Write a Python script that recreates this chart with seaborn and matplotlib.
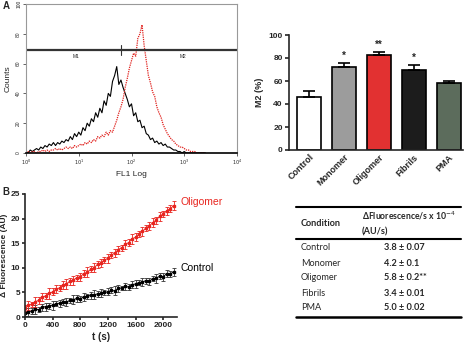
import numpy as np
import pandas as pd
import matplotlib
matplotlib.use("Agg")
import matplotlib.pyplot as plt
import seaborn as sns

sns.set_style("ticks")
plt.rcParams['font.family'] = ['Liberation Sans', 'DejaVu Sans']

# ---------------- Panel A (histogram) data ----------------
fl1_log_bins = np.round(np.arange(0, 3.41, 0.04), 2)
control_counts = [1, 0, 2, 1, 2, 3, 2, 4, 3, 5,
                  4, 6, 5, 7, 5, 7, 6, 8, 7, 9,
                  8, 11, 9, 13, 11, 14, 12, 17, 15, 20,
                  18, 23, 21, 27, 24, 30, 27, 35, 32, 40,
                  38, 48, 52, 58, 46, 49, 44, 40, 36, 31,
                  33, 25, 27, 21, 22, 17, 18, 13, 12, 9,
                  10, 7, 8, 6, 7, 5, 6, 4, 4, 3,
                  2, 2, 1, 1, 0, 1, 0, 0, 0, 0,
                  0, 0, 0, 0, 0, 0]
oligomer_counts = [0, 1, 0, 1, 1, 0, 1, 1, 2, 1,
                   2, 1, 2, 2, 3, 2, 3, 2, 3, 4,
                   3, 4, 3, 5, 4, 5, 6, 5, 7, 6,
                   8, 7, 9, 8, 11, 10, 12, 11, 14, 12,
                   15, 14, 18, 22, 27, 31, 36, 44, 50, 57,
                   62, 67, 65, 77, 80, 86, 72, 62, 52, 47,
                   41, 38, 31, 27, 24, 19, 16, 13, 11, 9,
                   8, 6, 5, 4, 4, 3, 2, 2, 1, 1,
                   1, 0, 0, 0, 0, 0]
m_gate_level = 69
m_gate_split = 63

# ---------------- Panel A (bars) data ----------------
conditions = ["Control", "Monomer", "Oligomer", "Fibrils", "PMA"]
m2_percent = [46.5, 72.5, 82.8, 69.9, 58.6]
m2_sem = [5.2, 3.5, 2.8, 4.3, 1.1]
m2_sig = ["", "*", "**", "*", ""]
bar_colors = ["#ffffff", "#9c9c9c", "#e23131", "#1c1c1c", "#5c6c5c"]

# ---------------- Panel B data ----------------
time_s = np.arange(0, 2151, 50)
oligomer_fluo = [1.8, 2.4, 2.6, 3.1, 3.4, 4.0, 4.3, 4.8, 5.1, 5.7, 5.9,
                 6.5, 6.7, 7.3, 7.5, 8.0, 8.2, 8.8, 9.1, 9.7, 10.0, 10.7,
                 11.0, 11.6, 11.9, 12.6, 13.0, 13.7, 14.1, 14.8, 15.1, 15.9,
                 16.2, 16.9, 17.4, 18.1, 18.5, 19.2, 19.7, 20.5, 20.9, 21.6, 22.0, 22.6]
oligomer_err = [0.6, 0.9, 0.5, 1.0, 0.7, 0.8, 0.6, 1.1, 0.7, 0.9, 0.6,
                0.8, 1.0, 0.7, 0.9, 0.6, 0.8, 0.7, 1.0, 0.6, 0.9, 0.7,
                0.8, 0.6, 1.0, 0.7, 0.9, 0.8, 0.6, 0.9, 0.7, 1.0, 0.8,
                0.6, 0.9, 0.7, 0.8, 1.0, 0.7, 0.9, 0.6, 0.8, 0.7, 0.9]
control_fluo = [0.8, 1.1, 1.2, 1.6, 1.5, 2.0, 2.1, 2.3, 2.4, 2.7, 2.8,
                3.1, 3.0, 3.4, 3.5, 3.8, 3.7, 4.1, 4.2, 4.4, 4.5, 4.7,
                4.8, 5.0, 5.1, 5.4, 5.3, 5.8, 5.9, 6.2, 6.1, 6.6,
                6.7, 7.0, 7.1, 7.4, 7.3, 7.8, 7.9, 8.3, 8.2, 8.8, 8.7, 9.2]
control_err = [0.5, 0.8, 0.6, 0.9, 0.5, 0.7, 0.8, 0.6, 0.9, 0.5, 0.7,
               0.6, 0.8, 0.5, 0.9, 0.7, 0.6, 0.8, 0.5, 0.7, 0.9, 0.6,
               0.8, 0.5, 0.7, 0.6, 0.9, 0.7, 0.5, 0.8, 0.6, 0.7, 0.9,
               0.5, 0.8, 0.6, 0.7, 0.5, 0.9, 0.6, 0.8, 0.7, 0.6, 0.8]

# ---------------- Table data ----------------
table_conditions = ["Control", "Monomer", "Oligomer", "Fibrils", "PMA"]
table_rates = ["3.8 \u00b1 0.07", "4.2 \u00b1 0.1", "5.8 \u00b1 0.2**", "3.4 \u00b1 0.01", "5.0 \u00b1 0.02"]

W, H = 474, 355
fig = plt.figure(figsize=(W / 100, H / 100), dpi=100)

def fx(x):
    return x / W

def fy(y):
    return 1 - y / H

# ---------- overlay axes for labels / table ----------
ax0 = fig.add_axes([0, 0, 1, 1])
ax0.set_xlim(0, W)
ax0.set_ylim(H, 0)
ax0.axis("off")

# ---------- Panel A: histogram ----------
ax1 = fig.add_axes([fx(26), fy(153), fx(211), 149 / H])
hist_df = pd.DataFrame({
    "fl1": 10 ** fl1_log_bins,
    "control": control_counts,
    "oligomer": oligomer_counts,
})
sns.lineplot(data=hist_df, x="fl1", y="control", ax=ax1, color="black", lw=0.8)
sns.lineplot(data=hist_df, x="fl1", y="oligomer", ax=ax1, color="#e0201c", lw=0.9,
             linestyle=(0, (1, 0.8)))
ax1.set_xscale("log")
ax1.set_xlim(1, 1e4)
ax1.set_ylim(0, 100)
ax1.axhline(m_gate_level, color="#333333", lw=1.6)
ax1.plot([m_gate_split, m_gate_split], [m_gate_level - 3.5, m_gate_level + 3.5], color="#333333", lw=0.8)
ax1.text(9, m_gate_level - 4, "M1", fontsize=3.5, ha="center", va="center")
ax1.text(950, m_gate_level - 4, "M2", fontsize=3.5, ha="center", va="center")
ax1.set_xticks([1, 10, 100, 1000, 10000])
ax1.set_xticklabels([r"$10^0$", r"$10^1$", r"$10^2$", r"$10^3$", r"$10^4$"], fontsize=3.5)
ax1.minorticks_off()
ax1.set_yticks([0, 20, 40, 60, 80, 100])
ax1.set_yticklabels(["0", "20", "40", "60", "80", "100"], fontsize=3.5, rotation=90, va="center")
ax1.tick_params(length=2, width=0.5, pad=1.5)
ax1.set_xlabel("FL1 Log", fontsize=6, labelpad=3)
ax1.set_ylabel("Counts", fontsize=6, labelpad=3)
for s in ["top", "right", "left"]:
    ax1.spines[s].set_color("#999999")
    ax1.spines[s].set_linewidth(0.8)
ax1.spines["bottom"].set_color("black")
ax1.spines["bottom"].set_linewidth(1.2)

# ---------- Panel A: bars ----------
ax2 = fig.add_axes([fx(289), fy(150), fx(174), 115 / H])
bar_df = pd.DataFrame({"condition": conditions, "m2": m2_percent})
sns.barplot(data=bar_df, x="condition", y="m2", hue="condition", palette=bar_colors,
            legend=False, ax=ax2, width=0.7, edgecolor="black", linewidth=1.2, saturation=1)
ax2.errorbar(range(len(conditions)), m2_percent,
             yerr=[np.zeros(len(m2_sem)), m2_sem], fmt="none", ecolor="black",
             elinewidth=1.2, capsize=4, capthick=1.2)
for i, (v, e, s) in enumerate(zip(m2_percent, m2_sem, m2_sig)):
    if s:
        ax2.text(i, v + e + 1.5, s, ha="center", va="bottom", fontsize=7, fontweight="bold")
ax2.set_xlim(-0.57, 4.4)
ax2.set_ylim(0, 100)
ax2.set_yticks([0, 20, 40, 60, 80, 100])
ax2.set_ylabel("M2 (%)", fontsize=6.5, fontweight="bold", labelpad=3)
ax2.set_xlabel("")
ax2.tick_params(axis="y", labelsize=6, length=3, width=1.2, pad=1.5)
ax2.tick_params(axis="x", length=0, pad=2)
plt.setp(ax2.get_yticklabels(), fontweight="bold")
ax2.set_xticks(range(len(conditions)))
ax2.set_xticklabels(conditions, rotation=45, ha="right", rotation_mode="anchor",
                    fontsize=6.5, fontweight="bold")
sns.despine(ax=ax2)
for s in ["left", "bottom"]:
    ax2.spines[s].set_linewidth(1.2)

# ---------- Panel B: kinetics ----------
ax3 = fig.add_axes([fx(25), fy(317), fx(152), 123 / H])
kin_df = pd.DataFrame({"t": time_s, "oligomer": oligomer_fluo, "control": control_fluo})
ax3.errorbar(time_s, control_fluo, yerr=control_err, fmt="s", ms=1.8, color="black",
             ecolor="#333333", elinewidth=0.6, capsize=1.5, capthick=0.6)
sns.lineplot(data=kin_df, x="t", y="control", ax=ax3, color="black", lw=0.7)
ax3.errorbar(time_s, oligomer_fluo, yerr=oligomer_err, fmt="s", ms=1.8, color="#e8251f",
             ecolor="#e8251f", elinewidth=0.6, capsize=1.5, capthick=0.6)
sns.lineplot(data=kin_df, x="t", y="oligomer", ax=ax3, color="#e8251f", lw=0.7)
ax3.set_xlim(0, 2200)
ax3.set_ylim(0, 25)
ax3.set_xticks([0, 400, 800, 1200, 1600, 2000])
ax3.set_yticks([0, 5, 10, 15, 20, 25])
ax3.tick_params(labelsize=6, length=2.5, width=1.2, pad=1)
plt.setp(ax3.get_xticklabels(), fontweight="bold")
plt.setp(ax3.get_yticklabels(), fontweight="bold")
ax3.set_xlabel("t (s)", fontsize=7, fontweight="bold", labelpad=2)
ax3.set_ylabel("\u0394 Fluorescence (AU)", fontsize=6, fontweight="bold")
ax3.yaxis.set_label_coords(-0.112, 0.5)
sns.despine(ax=ax3)
for s in ["left", "bottom"]:
    ax3.spines[s].set_linewidth(1.2)
ax3.text(2250, oligomer_fluo[-1] + 0.8, "Oligomer", color="#e8251f", fontsize=7.5, va="center",
         ha="left", clip_on=False)
ax3.text(2250, control_fluo[-1] + 0.7, "Control", color="black", fontsize=7.5, va="center",
         ha="left", clip_on=False)

# ---------- panel letters ----------
ax0.text(3, 6, "A", fontsize=7, fontweight="bold", va="center", ha="left")
ax0.text(2, 192, "B", fontsize=7, fontweight="bold", va="center", ha="left")

# ---------- Table ----------
tfont = ["Lato", "DejaVu Sans"]
tsize = 6.6
x0, x1 = 296, 461
ax0.plot([x0, x1], [207, 207], color="black", lw=1.5)
ax0.plot([x0, x1], [239, 239], color="black", lw=1.5)
ax0.plot([x0, x1], [317, 317], color="black", lw=1.8)
ax0.text(301, 224, "Condition", fontsize=tsize, fontweight="bold", va="center", ha="left", family=tfont)
ax0.text(362, 216, "\u0394Fluorescence/s x 10$^{-4}$", fontsize=6.2, fontweight="bold",
         va="center", ha="left", family=tfont)
ax0.text(362, 232, "(AU/s)", fontsize=tsize, fontweight="bold", va="center", ha="left", family=tfont)
row_y = [248, 263, 278, 293, 308]
for y, c, r in zip(row_y, table_conditions, table_rates):
    ax0.text(301, y, c, fontsize=tsize, va="center", ha="left", family=tfont)
    ax0.text(384, y, r, fontsize=tsize, fontweight="bold", va="center", ha="left", family=tfont)

fig.savefig("out.png", dpi=100)
